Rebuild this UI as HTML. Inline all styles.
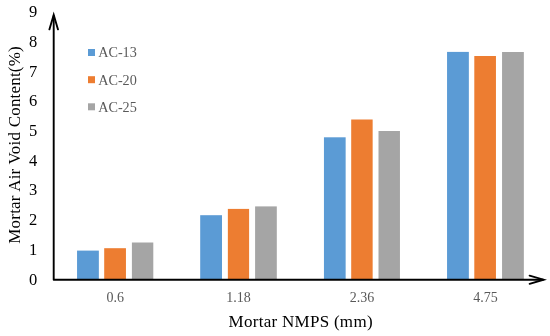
<!DOCTYPE html>
<html lang="en">
<head>
<meta charset="utf-8">
<title>Mortar Air Void Content vs Mortar NMPS</title>
<style>
html,body{margin:0;padding:0;background:#fff;}
body{width:550px;height:336px;overflow:hidden;}
svg{display:block;}
text{font-family:"Liberation Serif","DejaVu Serif",serif;}
.yt{font-size:16.5px;fill:#000;text-anchor:middle;}
.cat{font-size:14px;fill:#595959;text-anchor:middle;}
.leg{font-size:14.2px;fill:#595959;}
.ttl{font-size:17px;fill:#000;letter-spacing:0.2px;text-anchor:middle;}
</style>
</head>
<body>
<svg width="550" height="336" viewBox="0 0 550 336">
<rect x="0" y="0" width="550" height="336" fill="#ffffff"/>
<rect x="77.05" y="250.6" width="21.80" height="29.1" fill="#5B9BD5"/>
<rect x="104.20" y="248.2" width="21.75" height="31.5" fill="#ED7D31"/>
<rect x="131.90" y="242.5" width="21.40" height="37.2" fill="#A5A5A5"/>
<rect x="200.20" y="215.2" width="21.80" height="64.5" fill="#5B9BD5"/>
<rect x="227.85" y="208.9" width="21.25" height="70.8" fill="#ED7D31"/>
<rect x="255.10" y="206.4" width="21.70" height="73.3" fill="#A5A5A5"/>
<rect x="323.95" y="137.3" width="21.70" height="142.4" fill="#5B9BD5"/>
<rect x="351.20" y="119.5" width="21.45" height="160.2" fill="#ED7D31"/>
<rect x="378.50" y="131.0" width="21.45" height="148.7" fill="#A5A5A5"/>
<rect x="447.05" y="51.9" width="21.80" height="227.8" fill="#5B9BD5"/>
<rect x="474.30" y="56.0" width="21.65" height="223.7" fill="#ED7D31"/>
<rect x="502.05" y="52.0" width="21.80" height="227.7" fill="#A5A5A5"/>
<g stroke="#000" stroke-width="1.9" fill="none" stroke-linecap="round" stroke-linejoin="round">
<path d="M53.7 16 L53.7 279.7 L543 279.7"/>
<path d="M49.400000000000006 29.4 L53.7 14.8 L58.0 29.4" stroke-linejoin="miter" stroke-miterlimit="10"/>
<path d="M529.6 275.59999999999997 L543.6 279.7 L529.6 283.8" stroke-linejoin="miter" stroke-miterlimit="10"/>
</g>
<text class="yt" x="33.2" y="284.6">0</text>
<text class="yt" x="33.2" y="254.9">1</text>
<text class="yt" x="33.2" y="225.2">2</text>
<text class="yt" x="33.2" y="195.4">3</text>
<text class="yt" x="33.2" y="165.7">4</text>
<text class="yt" x="33.2" y="136.0">5</text>
<text class="yt" x="33.2" y="106.3">6</text>
<text class="yt" x="33.2" y="76.6">7</text>
<text class="yt" x="33.2" y="46.8">8</text>
<text class="yt" x="33.2" y="17.1">9</text>
<text class="cat" x="115.2" y="301.5">0.6</text>
<text class="cat" x="238.5" y="301.5">1.18</text>
<text class="cat" x="361.9" y="301.5">2.36</text>
<text class="cat" x="485.5" y="301.5">4.75</text>
<rect x="88" y="49.0" width="7" height="7" fill="#5B9BD5"/>
<text class="leg" x="98.2" y="57.4">AC-13</text>
<rect x="88" y="76.2" width="7" height="7" fill="#ED7D31"/>
<text class="leg" x="98.2" y="84.6">AC-20</text>
<rect x="88" y="103.3" width="7" height="7" fill="#A5A5A5"/>
<text class="leg" x="98.2" y="111.7">AC-25</text>
<text class="ttl" x="300.7" y="326.5" style="letter-spacing:0.28px">Mortar NMPS (mm)</text>
<text class="ttl" transform="translate(20.2 144.9) rotate(-90)">Mortar Air Void Content(%)</text>
</svg>
</body>
</html>
